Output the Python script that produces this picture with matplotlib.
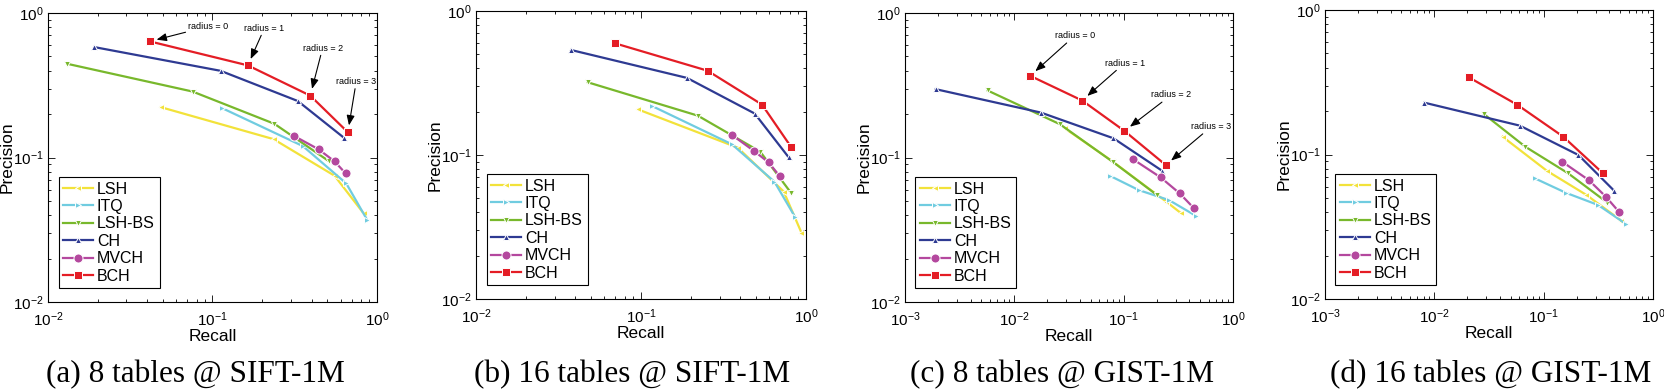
import matplotlib
matplotlib.use('Agg')
import matplotlib.pyplot as plt

plt.rcParams['font.family'] = ['Liberation Sans', 'DejaVu Sans']
plt.rcParams['mathtext.fontset'] = 'custom'
plt.rcParams['mathtext.rm'] = 'Liberation Sans'
plt.rcParams['mathtext.it'] = 'Liberation Sans:italic'
plt.rcParams['mathtext.bf'] = 'Liberation Sans:bold'

methods = ['LSH', 'ITQ', 'LSH-BS', 'CH', 'MVCH', 'BCH']
colors = ['#f2e23a', '#70cce0', '#78b82c', '#2e3a92', '#b4489e', '#e41d25']
markers = ['<', '>', 'v', '^', 'o', 's']
msizes = [5, 5, 5, 5, 6.5, 5.5]

# (a) 8 tables @ SIFT-1M
recall_a = [
    [0.0485, 0.235, 0.552, 0.830],   # LSH
    [0.115, 0.354, 0.650, 0.869],    # ITQ
    [0.0131, 0.0757, 0.238, 0.508],  # LSH-BS
    [0.0191, 0.112, 0.330, 0.632],   # CH
    [0.313, 0.441, 0.552, 0.644],    # MVCH
    [0.0416, 0.164, 0.393, 0.665],   # BCH
]
prec_a = [
    [0.223, 0.134, 0.0748, 0.041],
    [0.219, 0.120, 0.0662, 0.0372],
    [0.445, 0.286, 0.171, 0.0946],
    [0.581, 0.398, 0.246, 0.1365],
    [0.141, 0.114, 0.094, 0.0777],
    [0.636, 0.434, 0.268, 0.1495],
]

# (b) 16 tables @ SIFT-1M
recall_b = [
    [0.0957, 0.386, 0.733, 0.938],
    [0.1165, 0.356, 0.643, 0.861],
    [0.0475, 0.221, 0.528, 0.815],
    [0.0377, 0.190, 0.489, 0.785],
    [0.356, 0.482, 0.593, 0.692],
    [0.0697, 0.253, 0.541, 0.811],
]
prec_b = [
    [0.2075, 0.1124, 0.0557, 0.0289],
    [0.219, 0.1186, 0.0653, 0.0369],
    [0.320, 0.1876, 0.1055, 0.0542],
    [0.536, 0.343, 0.194, 0.0964],
    [0.1377, 0.107, 0.0889, 0.0715],
    [0.596, 0.385, 0.224, 0.114],
]

# (c) 8 tables @ GIST-1M
recall_c = [
    [0.029, 0.0774, 0.246, 0.337],
    [0.0746, 0.1374, 0.260, 0.462],
    [0.00569, 0.0261, 0.0791, 0.2023],
    [0.00191, 0.0175, 0.0807, 0.2265],
    [0.1222, 0.218, 0.326, 0.441],
    [0.01396, 0.0417, 0.1016, 0.2427],
]
prec_c = [
    [0.159, 0.0951, 0.0494, 0.041],
    [0.0748, 0.0595, 0.0507, 0.0393],
    [0.291, 0.170, 0.0936, 0.0549],
    [0.297, 0.2046, 0.1358, 0.0806],
    [0.0971, 0.0728, 0.0564, 0.0444],
    [0.3675, 0.248, 0.1527, 0.0887],
]

# (d) 16 tables @ GIST-1M
recall_d = [
    [0.0421, 0.1076, 0.246, 0.514],
    [0.083, 0.159, 0.315, 0.571],
    [0.0286, 0.0678, 0.1675, 0.383],
    [0.0081, 0.0605, 0.208, 0.4406],
    [0.1476, 0.260, 0.370, 0.490],
    [0.0207, 0.0573, 0.1507, 0.349],
]
prec_d = [
    [0.1328, 0.0769, 0.0525, 0.0348],
    [0.0684, 0.0544, 0.0447, 0.0329],
    [0.1897, 0.1133, 0.0741, 0.0464],
    [0.2284, 0.1584, 0.0992, 0.0562],
    [0.0892, 0.0663, 0.0511, 0.040],
    [0.342, 0.221, 0.133, 0.0741],
]

radius_labels = ['radius = 0', 'radius = 1', 'radius = 2', 'radius = 3']
rad_text_a_x = [0.0944, 0.207, 0.467, 0.748]
rad_text_a_y = [0.808, 0.787, 0.572, 0.336]
rad_text_c_x = [0.0357, 0.102, 0.2735, 0.634]
rad_text_c_y = [0.696, 0.450, 0.2714, 0.1636]

captions = ['(a) 8 tables @ SIFT-1M', '(b) 16 tables @ SIFT-1M',
            '(c) 8 tables @ GIST-1M', '(d) 16 tables @ GIST-1M']

panels = [
    (recall_a, prec_a, 1e-2, (rad_text_a_x, rad_text_a_y)),
    (recall_b, prec_b, 1e-2, None),
    (recall_c, prec_c, 1e-3, (rad_text_c_x, rad_text_c_y)),
    (recall_d, prec_d, 1e-3, None),
]

W, H = 1665, 391
fig = plt.figure(figsize=(W / 100, H / 100), dpi=100)

# axes boxes in pixels: left, top, right, bottom
boxes = [(48, 13, 377, 302), (476, 11, 806, 299),
         (905, 13, 1233, 302), (1325, 10, 1653, 299)]
cap_x = [195, 632, 1062, 1491]

for k, (rec, prec, xmin, ann) in enumerate(panels):
    l, t, r, b = boxes[k]
    ax = fig.add_axes([l / W, (H - b) / H, (r - l) / W, (b - t) / H])
    for i, name in enumerate(methods):
        ax.plot(rec[i], prec[i], color=colors[i], lw=1.6, marker=markers[i],
                markersize=msizes[i], markerfacecolor=colors[i],
                markeredgecolor='white', markeredgewidth=0.7, label=name)
    ax.set_xscale('log')
    ax.set_yscale('log')
    ax.set_xlim(xmin, 1)
    ax.set_ylim(1e-2, 1)
    ax.tick_params(which='both', direction='in', top=True, right=True,
                   labelsize=11, width=0.6)
    ax.tick_params(axis='x', pad=6)
    ax.tick_params(axis='y', pad=3)
    ax.tick_params(which='major', length=5)
    ax.tick_params(which='minor', length=2.5)
    for s in ax.spines.values():
        s.set_linewidth(0.8)
    ax.set_xlabel('Recall', fontsize=12.5, labelpad=0)
    ax.set_ylabel('Precision', fontsize=12.5)
    ax.yaxis.set_label_coords(-0.102, 0.5)

    leg = ax.legend(loc='lower left', bbox_to_anchor=(0.032, 0.047),
                    fontsize=11.5, frameon=True, fancybox=False,
                    edgecolor='black', framealpha=1, borderpad=0.3,
                    labelspacing=0.15, handlelength=1.85, handletextpad=0.25,
                    borderaxespad=0)
    leg.get_frame().set_linewidth(0.8)

    if ann is not None:
        tx, ty = ann
        for j, lab in enumerate(radius_labels):
            ax.annotate(lab, xy=(rec[5][j], prec[5][j]), xytext=(tx[j], ty[j]),
                        ha='center', va='center', fontsize=6.5,
                        arrowprops=dict(arrowstyle='-|>,head_length=0.5,head_width=0.2',
                                        color='black', lw=0.8, mutation_scale=12,
                                        shrinkA=0, shrinkB=5))

    fig.text(cap_x[k] / W, (H - 375) / H, captions[k], ha='center', va='center',
             fontsize=22.5, family='Liberation Serif')

fig.savefig('out.png', dpi=100)
